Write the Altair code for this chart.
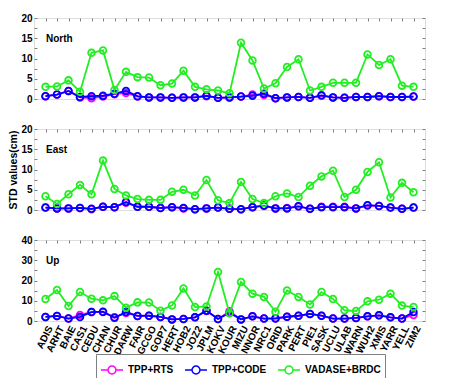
import altair as alt
import pandas as pd

stations = ["ADIS", "ARHT", "BAIE", "CAS1", "CEDU", "CHAN", "CHUR", "DARW", "FAIR", "GCGO",
            "GOP7", "HERT", "HOB2", "JOZ2", "JPLM", "KOKV", "KOUR", "MIZU", "NNOR", "NRC1",
            "ORID", "PARK", "PERT", "PIE1", "SASK", "UCLU", "ULAB", "WARN", "WUH2", "XMIS",
            "YARR", "YELL", "ZIM2"]
series_names = ["TPP+RTS", "TPP+CODE", "VADASE+BRDC"]
colors = ["#ff00ff", "#0000ff", "#22ee22"]

north_rts = [0.7, 1.1, 2.0, 0.4, 0.2, 0.6, 1.2, 1.5, 0.6, 0.4, 0.4, 0.3, 0.4, 0.4, 0.7, 0.3, 0.4,
             0.6, 1.1, 1.0, 0.2, 0.4, 0.5, 0.3, 0.8, 0.4, 0.3, 0.5, 0.5, 0.7, 0.5, 0.5, 0.6]
north_code = [0.7, 1.1, 2.0, 0.5, 0.7, 0.8, 1.3, 2.0, 0.7, 0.4, 0.4, 0.3, 0.4, 0.4, 0.8, 0.3, 0.4,
              0.6, 0.8, 1.3, 0.2, 0.4, 0.5, 0.3, 0.9, 0.4, 0.3, 0.5, 0.5, 0.7, 0.5, 0.5, 0.6]
north_vad = [3.0, 3.1, 4.6, 1.8, 11.4, 12.0, 2.2, 6.7, 5.4, 5.3, 3.4, 3.8, 7.0, 3.0, 2.4, 2.1, 1.4,
             13.9, 9.5, 2.6, 3.9, 7.9, 9.8, 2.1, 3.0, 4.0, 4.0, 4.0, 11.0, 8.4, 9.8, 3.3, 3.0]

east_rts = [0.6, 0.4, 0.4, 0.5, 0.2, 0.8, 0.7, 1.8, 0.8, 0.8, 0.5, 0.7, 0.4, 0.2, 0.4, 0.6, 0.3,
            0.2, 0.7, 1.0, 0.4, 0.5, 0.9, 0.3, 0.8, 0.8, 0.8, 0.4, 1.1, 1.0, 0.6, 0.3, 0.6]
east_code = [0.6, 0.4, 0.4, 0.5, 0.3, 0.8, 0.7, 2.0, 0.8, 0.8, 0.5, 0.7, 0.5, 0.2, 0.4, 0.6, 0.3,
             0.2, 0.7, 1.1, 0.4, 0.4, 0.9, 0.3, 0.7, 0.7, 0.7, 0.4, 1.2, 1.0, 0.6, 0.3, 0.6]
east_vad = [3.4, 1.5, 3.9, 6.2, 3.9, 12.2, 5.2, 3.6, 2.7, 2.5, 2.5, 4.5, 5.0, 3.6, 7.4, 2.4, 1.7,
            6.9, 2.7, 1.7, 3.4, 4.1, 3.2, 6.0, 8.3, 9.7, 3.2, 5.0, 9.4, 11.8, 3.1, 6.7, 4.4]

up_rts = [2.0, 2.5, 1.2, 3.0, 4.4, 4.4, 1.8, 4.0, 2.5, 2.6, 2.0, 0.8, 1.0, 1.8, 5.0, 1.0, 4.8,
          0.8, 2.3, 1.2, 1.4, 2.1, 2.6, 3.5, 2.6, 1.2, 1.2, 1.5, 2.3, 2.8, 1.8, 1.2, 3.0]
up_code = [2.0, 2.5, 1.2, 2.0, 4.4, 4.6, 1.6, 4.4, 2.5, 2.6, 2.0, 0.8, 1.0, 1.8, 5.1, 1.0, 4.0,
           0.8, 2.3, 1.2, 1.2, 2.1, 2.6, 3.5, 2.6, 1.2, 1.2, 1.5, 2.3, 2.8, 1.8, 1.2, 4.4]
up_vad = [10.9, 15.3, 7.4, 14.3, 11.0, 10.2, 12.3, 6.6, 9.2, 9.1, 5.1, 7.7, 16.1, 6.9, 7.2, 24.2, 3.8,
          19.3, 13.5, 11.9, 4.6, 15.1, 11.9, 8.2, 14.3, 10.9, 5.3, 4.9, 9.7, 10.5, 13.5, 7.6, 6.9]

FONT = "Liberation Sans"
W, H = 391, 81
GRAY = "#808080"

LEGEND_PATH = ("M-1,0L-0.36,0M0.36,0L1,0"
               "M0.36,0A0.36,0.36,0,1,1,-0.36,0A0.36,0.36,0,1,1,0.36,0")

legend = alt.Legend(
    title=None, orient="none", legendX=62, legendY=336, direction="horizontal",
    symbolType=LEGEND_PATH, symbolSize=484, symbolStrokeWidth=1.5,
    labelFont=FONT, labelFontWeight="bold", labelFontSize=10, labelColor="black",
    strokeColor=GRAY, padding=4, labelOffset=4, columnPadding=8, gridAlign="each",
)
color_scale = alt.Scale(domain=series_names, range=colors)


def make_df(rts, code, vad):
    rows = []
    for s, vals in zip(series_names, [rts, code, vad]):
        for st, v in zip(stations, vals):
            rows.append({"station": st, "series": s, "value": v})
    return pd.DataFrame(rows)


def panel(df, label, ymax, minor, major, show_x, y_title):
    n = int(round(ymax / minor))
    tick_vals = [round(i * minor, 3) for i in range(n + 1)]
    yscale = alt.Scale(domain=[0, ymax], nice=False, zero=True)
    xscale = alt.Scale(type="point", padding=1, domain=stations)

    left_axis = alt.Axis(
        orient="left", values=tick_vals,
        labelExpr=f"datum.value % {major} === 0 ? datum.label : ''",
        tickSize={"expr": "-3"}, tickColor=GRAY, domain=False, grid=False,
        labelFont=FONT, labelFontWeight="bold", labelFontSize=10, labelColor="black",
        labelPadding=5, title=y_title if y_title else None,
        titleFont=FONT, titleFontWeight="bold", titleFontSize=10.5, titleColor="black",
        titlePadding=2,
    )
    right_axis = alt.Axis(
        orient="right", values=tick_vals, tickSize={"expr": "-3"}, tickColor=GRAY,
        labels=False, domain=False, grid=False, title=None,
    )
    top_axis = alt.Axis(
        orient="top", tickSize={"expr": "-3"}, tickColor=GRAY, labels=False,
        domain=False, grid=False, title=None,
    )
    if show_x:
        bottom_axis = alt.Axis(
            orient="bottom", ticks=False, domain=False, grid=False, title=None,
            labelAngle=-63, labelAlign="right", labelBaseline="top", labelPadding=3,
            labelFont=FONT, labelFontWeight="bold", labelFontSize=10, labelColor="black",
        )
    else:
        bottom_axis = None

    layers = []
    k = 0
    for s in series_names:
        sub = df[df["series"] == s]
        for mk in ["line", "point"]:
            if k == 0:
                xa, ya = bottom_axis, left_axis
            elif k == 1:
                xa, ya = top_axis, right_axis
            else:
                xa, ya = None, None
            base = alt.Chart(sub)
            if mk == "line":
                m = base.mark_line(strokeWidth=1.8)
            else:
                m = base.mark_point(filled=False, size=45, strokeWidth=1.8, opacity=1)
            layers.append(m.encode(
                x=alt.X("station:N", scale=xscale, sort=stations, axis=xa),
                y=alt.Y("value:Q", scale=yscale, axis=ya),
                color=alt.Color("series:N", scale=color_scale, legend=legend),
            ))
            k += 1
    txt = alt.Chart(alt.Data(values=[{}])).mark_text(
        text=label, align="left", baseline="middle", font=FONT, fontWeight="bold",
        fontSize=10, color="black",
    ).encode(x=alt.value(12), y=alt.value(21))
    layers.append(txt)
    return alt.layer(*layers).resolve_axis(x="independent", y="independent").properties(
        width=W, height=H)


north = panel(make_df(north_rts, north_code, north_vad), "North", 20, 2.5, 5, False, None)
east = panel(make_df(east_rts, east_code, east_vad), "East", 20, 2.5, 5, False, "STD values(cm)")
up = panel(make_df(up_rts, up_code, up_vad), "Up", 40, 5, 10, True, None)

chart = alt.vconcat(north, east, up, spacing=17).properties(
    padding={"left": 0, "top": 4, "right": 2, "bottom": 0}
).configure_view(stroke=GRAY, strokeWidth=1).configure(background="white")

chart.save("out.html", embed_options={"renderer": "svg", "actions": False})
